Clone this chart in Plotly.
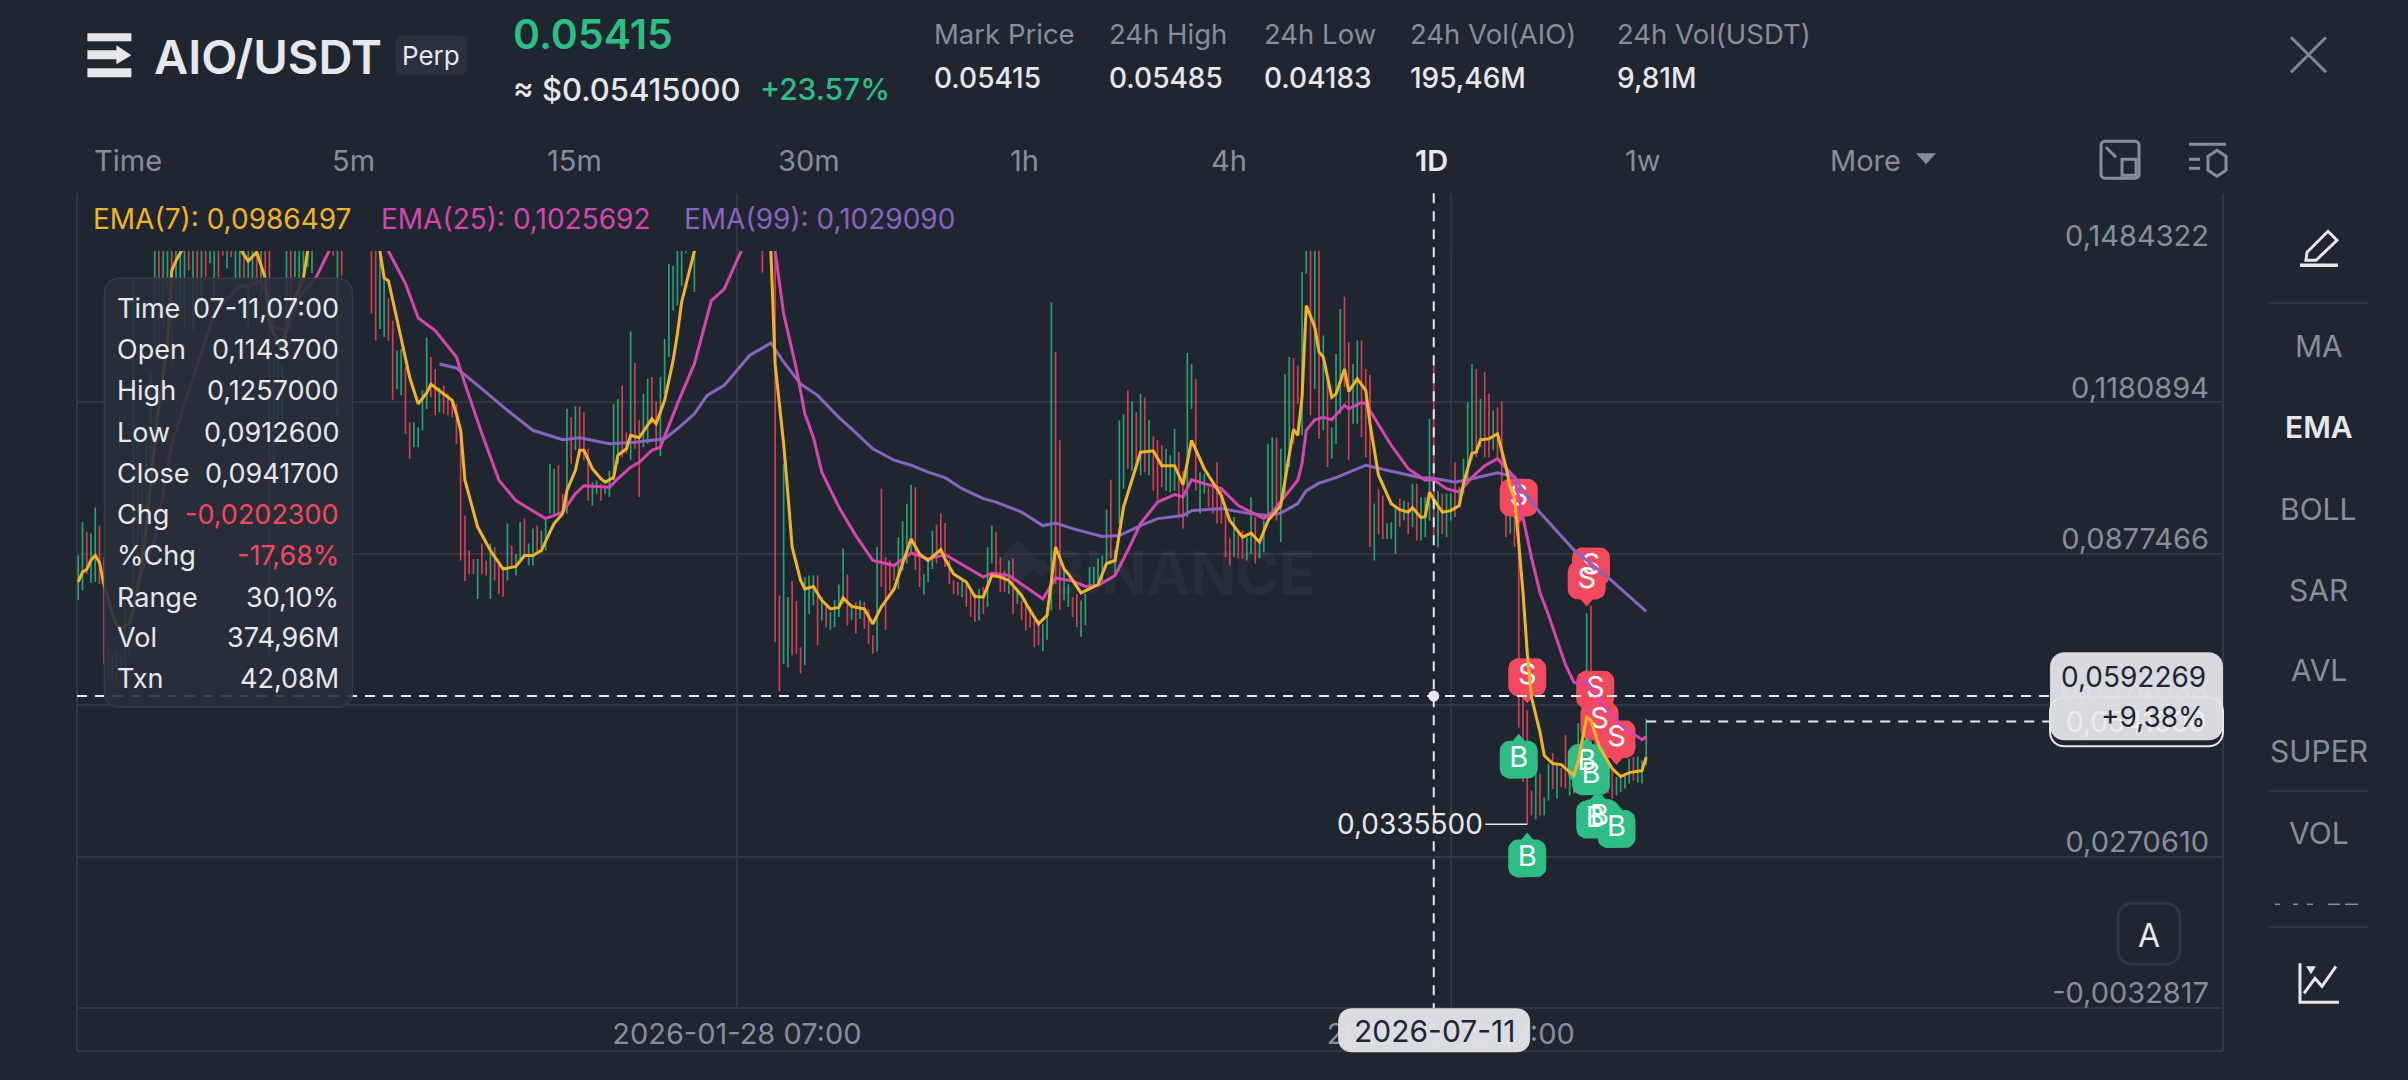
import math

import pandas as pd
import plotly.graph_objects as go

# ======================================
# Chart data
# ======================================

first_day = pd.Timestamp("2025-08-26 07:00")

candle_highs = [
    .0874, .0941, .0921, .0918, .0970, .0934, .0871, .0690, .0677, .0684,
    .0684, .0791, .0757, .1421, .1085, .1058, .1125, .1245, .1550, .1550,
    .1500, .1580, .1580, .1520, .1530, .1540, .1540, .1580, .1550, .1520,
    .1560, .1560, .1500, .1520, .1550, .1560, .1560, .1580, .1600, .1620,
    .1640, .1600, .1610, .1580, .1550, .1580, .1272, .1272, .1258, .1550,
    .1560, .1520, .1500, .1530, .1570, .1580, .1650, .1700, .1680, .1650,
    .1580, .1580, .1560, .1720, .1780, .1800, .1760, .1700, .1620, .1560,
    .1560, .1540, .1439, .1389, .1345, .1285, .1288, .1252, .1141, .1141,
    .1131, .1205, .1310, .1272, .1248, .1211, .1215, .1198, .1188, .1178,
    .1125, .0954, .0884, .0867, .0867, .0898, .0864, .0898, .0891, .0858,
    .0844, .0938, .0894, .0877, .0941, .0948, .0898, .0928, .0934, .0924,
    .0948, .1058, .1048, .1055, .0998, .1168, .1151, .1173, .1173, .1161,
    .1088, .1021, .1024, .1018, .1011, .1044, .1178, .1188, .1215, .1121,
    .1323, .1260, .1145, .1198, .1228, .1232, .1183, .1232, .1308, .1459,
    .1455, .1550, .1570, .1560, .1580, .1600, .1650, .1720, .1780, .1850,
    .1950, .2000, .2050, .2100, .2200, .2250, .2300, .2250, .2200, .2150,
    .2000, .1850, .1800, .1800, .1750, .0794, .1058, .0791, .0823, .0783,
    .0690, .0831, .0834, .0834, .0834, .0791, .0771, .0761, .0785, .0816,
    .0888, .0836, .0777, .0781, .0784, .0781, .0767, .0714, .0891, .1008,
    .0871, .0864, .0854, .0911, .0943, .0978, .1016, .1011, .0881, .0837,
    .0871, .0924, .0936, .0958, .0939, .0864, .0824, .0821, .0824, .0817,
    .0804, .0797, .0807, .0811, .0891, .0934, .0921, .0871, .0844, .0864,
    .0868, .0804, .0784, .0774, .0771, .0744, .0744, .0737, .0771, .1381,
    .1282, .1105, .0851, .0817, .0791, .0797, .0784, .0797, .0851, .0851,
    .0868, .0874, .0966, .1026, .0884, .1145, .1157, .1205, .1183, .1161,
    .1198, .1191, .1146, .1113, .1105, .1095, .1088, .1075, .1128, .1081,
    .1044, .1280, .1258, .1228, .1041, .1038, .1011, .1018, .1061, .1011,
    .0961, .0908, .0951, .0921, .0924, .0911, .0991, .0951, .0904, .0944,
    .1098, .1111, .1110, .1088, .1238, .1272, .1270, .1255, .1442, .1570,
    .1620, .1600, .1580, .1315, .1238, .1131, .1278, .1368, .1393, .1302,
    .1258, .1305, .1305, .1248, .1236, .0978, .1008, .0994, .0938, .0941,
    .0971, .0988, .0984, .0981, .1018, .1018, .0991, .0991, .1148, .1257,
    .1004, .0998, .0998, .0998, .1061, .1011, .1068, .1181, .1258, .1248,
    .1188, .1242, .1198, .1165, .1171, .1183, .0971, .0958, .0958, .0951,
    .0610, .0564, .0403, .0437, .0437, .0389, .0457, .0478, .0457, .0448,
    .0514, .0470, .0437, .0538, .0640, .0758, .0774, .0610, .0560, .0520,
    .0437, .0443, .0430, .0430, .0437, .0467, .0470, .0471, .0463, .0547,
]

candle_lows = [
    .0785, .0804, .0837, .0819, .0821, .0817, .0657, .0624, .0624, .0610,
    .0637, .0624, .0677, .0800, .0858, .0858, .0951, .1031, .1292, .1265,
    .1325, .1405, .1245, .1359, .1359, .1325, .1445, .1325, .1379, .1365,
    .1433, .1460, .1392, .1432, .1475, .1449, .1472, .1429, .1429, .1425,
    .1331, .1419, .1405, .1392, .1419, .0664, .1058, .1145, .1145, .1338,
    .1325, .1432, .1379, .1439, .1452, .1440, .1500, .1520, .1520, .1500,
    .1475, .1151, .1435, .1520, .1550, .1560, .1530, .1500, .1490, .1359,
    .1305, .1328, .1312, .1305, .1186, .1208, .1195, .1118, .1068, .1091,
    .1091, .1125, .1167, .1191, .1155, .1161, .1158, .1155, .1151, .1098,
    .0864, .0823, .0837, .0837, .0787, .0837, .0834, .0787, .0824, .0797,
    .0791, .0824, .0851, .0834, .0858, .0868, .0854, .0854, .0881, .0888,
    .0884, .0958, .0951, .0958, .0958, .0958, .1058, .1085, .1071, .1065,
    .0984, .0974, .0998, .0984, .0998, .0991, .1025, .1058, .1071, .1078,
    .1065, .1088, .0991, .1091, .1098, .1138, .1091, .1073, .1198, .1272,
    .1365, .1375, .1415, .1480, .1490, .1402, .1520, .1550, .1600, .1630,
    .1700, .1750, .1800, .1850, .1900, .1950, .2000, .1950, .1900, .1800,
    .1650, .1441, .1500, .1435, .0700, .0602, .0657, .0650, .0674, .0677,
    .0637, .0654, .0757, .0774, .0694, .0744, .0730, .0725, .0730, .0751,
    .0777, .0734, .0745, .0718, .0747, .0727, .0697, .0677, .0682, .0811,
    .0725, .0804, .0824, .0807, .0844, .0858, .0881, .0845, .0811, .0796,
    .0821, .0847, .0858, .0877, .0851, .0817, .0797, .0794, .0791, .0771,
    .0751, .0741, .0744, .0757, .0771, .0858, .0837, .0801, .0801, .0797,
    .0757, .0777, .0744, .0724, .0730, .0690, .0694, .0682, .0705, .0764,
    .0817, .0765, .0784, .0771, .0751, .0730, .0711, .0734, .0807, .0814,
    .0817, .0817, .0858, .0868, .0831, .0938, .1008, .1048, .1044, .1044,
    .1035, .1041, .1035, .1004, .0984, .1011, .1004, .1001, .1004, .0951,
    .0928, .0951, .1168, .1004, .0958, .0998, .0971, .0958, .0938, .0938,
    .0871, .0854, .0871, .0868, .0868, .0864, .0877, .0858, .0868, .0881,
    .0944, .0951, .0944, .0901, .0998, .1051, .1098, .1178, .1115, .1439,
    .1155, .1208, .1108, .1125, .1051, .1068, .1098, .1158, .1212, .1065,
    .1138, .1138, .1111, .1071, .0891, .0864, .0917, .0907, .0907, .0907,
    .0877, .0931, .0944, .0917, .0931, .0904, .0904, .0911, .0944, .0913,
    .0891, .0917, .0911, .0944, .0951, .0978, .0998, .1018, .1065, .1071,
    .1091, .1071, .1071, .1085, .1065, .0991, .0911, .0918, .0891, .0529,
    .0420, .03355, .0353, .0345, .0353, .0353, .0383, .0406, .0387, .0410,
    .0407, .0393, .0397, .0420, .0420, .0430, .0430, .0440, .0420, .0400,
    .0397, .0387, .0393, .0400, .0407, .0417, .0423, .0419, .0417, .0454,
]

# G = close above open, R = close below open
candle_sides = (
    "GGRGGRRRGG" "RGGGRGGGGR" "GGRGGGRGRG" "RGGRRGRGGR" "GGRGRRGGGG"
    "RGGGGGGRGG" "RGRGGRRRRR" "RGGRRGGRRG" "GGGRRGRRRR" "RRRRGRRGRR"
    "RGRGGRGGRG" "GGGRRGRGRR" "RGGRGGGGRR" "GRRGGRRGGG" "GGGGGGGGRG"
    "GRGRGGRRRR" "RRRRRRGGRR" "RGGGRGRGGG" "GRGRGRRRGR" "RRRGGGGRRG"
    "GGRRRRRRGR" "RRGRGGRRRG" "RGRRRRRGGG" "RRGGRRGGGG" "GGGRGGGRGR"
    "GRGRRRGGGR" "RGGRGGRRRR" "RRGRRGGRGG" "GGRGGGRRGG" "RGRGRGGGRR"
    "GGRRRGRRGG" "GRGRGRGGGR" "GRGGRGGGGR" "GRRGRRRGRR" "RRRGRGGRGR"
    "RGRGGGRRRR" "RRGGGGRGGG"
)

ema7_days = [
    0, 1, 2, 3, 4, 5, 6, 8, 9, 10, 12, 13, 15, 16, 18, 19, 21, 22, 23, 25,
    28, 32, 36, 38, 40, 42, 44, 45, 47, 48, 50, 53, 54, 56, 60, 64, 67, 71,
    72, 73, 76, 78, 80, 82, 83, 85, 88, 89, 90, 91, 94, 97, 100, 103, 105,
    107, 109, 111, 112, 114, 115, 117, 118, 119, 121, 123, 124, 126, 127,
    129, 130, 132, 135, 136, 138, 140, 141, 142, 145, 147, 150, 153, 156,
    159, 161, 163, 164, 166, 167, 168, 170, 171, 173, 175, 177, 179, 180,
    182, 185, 187, 189, 191, 192, 194, 196, 198, 200, 203, 204, 206, 209,
    211, 213, 215, 217, 219, 222, 224, 226, 228, 229, 230, 232, 233, 236,
    240, 242, 244, 246, 248, 250, 253, 255, 258, 260, 262, 265, 269, 271,
    274, 276, 278, 280, 283, 285, 286, 287, 288, 289, 291, 292, 293, 295,
    296, 298, 299, 301, 303, 304, 306, 309, 311, 313, 314, 316, 317, 318,
    319, 321, 323, 325, 326, 328, 329, 330, 332, 334, 336, 337, 338, 339,
    340, 341, 342, 344, 345, 347, 349, 352, 353, 355, 356, 358, 361, 363,
    365, 368, 369,
]
ema7_values = [
    .0821, .0841, .0846, .0865, .0874, .0860, .0817, .0757, .0737, .0727,
    .0738, .0765, .0858, .0931, .1098, .1178, .1298, .1445, .1465, .1495,
    .1540, .1560, .1530, .1490, .1464, .1482, .1430, .1340, .1300, .1287,
    .1370, .1431, .1485, .1560, .1650, .1720, .1650, .1484, .1430, .1425,
    .1312, .1231, .1178, .1200, .1217, .1204, .1185, .1158, .1125, .1025,
    .0931, .0884, .0847, .0852, .0874, .0874, .0884, .0921, .0938, .0958,
    .1004, .1045, .1085, .1085, .1048, .1028, .1021, .1031, .1075, .1088,
    .1115, .1110, .1148, .1138, .1185, .1265, .1318, .1382, .1484, .1580,
    .1720, .1850, .1950, .1900, .1800, .1484, .1258, .1098, .0998, .0891,
    .0824, .0807, .0812, .0784, .0767, .0770, .0789, .0772, .0767, .0737,
    .0771, .0794, .0807, .0858, .0907, .0877, .0864, .0886, .0867, .0837,
    .0821, .0792, .0791, .0834, .0831, .0824, .0794, .0764, .0737, .0754,
    .0817, .0891, .0847, .0837, .0799, .0816, .0858, .0864, .0971, .1028,
    .1081, .1084, .1054, .1054, .1016, .1105, .1048, .0994, .0944, .0911,
    .0919, .0901, .0944, .0974, .1078, .1127, .1115, .1191, .1375, .1332,
    .1282, .1272, .1191, .1198, .1248, .1203, .1228, .1205, .1138, .1035,
    .0978, .0966, .0961, .0970, .0950, .0952, .1001, .0986, .0961, .0964,
    .0974, .1018, .1079, .1081, .1106, .1108, .1118, .1051, .1011, .0990,
    .0900, .0800, .0680, .0590, .0520, .0473, .0457, .0455, .0433, .0463,
    .0550, .0544, .0490, .0447, .0431, .0439, .0443, .0470,
]

ema25_days = [
    14, 18, 22, 27, 32, 38, 40, 43, 44, 46, 49, 52, 56, 59, 63, 67, 70, 73,
    77, 80, 84, 89, 91, 95, 99, 103, 110, 114, 117, 119, 125, 127, 130, 132,
    135, 137, 141, 145, 148, 149, 152, 156, 158, 160, 162, 163, 164, 166,
    169, 171, 173, 175, 179, 183, 187, 192, 196, 200, 204, 209, 213, 215,
    219, 223, 227, 230, 234, 237, 240, 244, 247, 250, 254, 258, 260, 262,
    266, 269, 273, 279, 281, 287, 288, 289, 291, 293, 295, 298, 299, 302,
    303, 309, 313, 317, 319, 322, 325, 328, 331, 334, 338, 340, 342, 344,
    346, 350, 352, 353, 355, 358, 363, 368, 369,
]
ema25_values = [
    .0817, .0904, .1098, .1231, .1359, .1415, .1412, .1425, .1405, .1332,
    .1325, .1392, .1432, .1484, .1580, .1620, .1580, .1484, .1419, .1350,
    .1325, .1272, .1218, .1118, .1025, .0984, .0948, .0961, .0998, .1014,
    .1011, .1028, .1051, .1061, .1085, .1091, .1178, .1258, .1352, .1385,
    .1408, .1484, .1600, .1680, .1700, .1650, .1484, .1359, .1248, .1158,
    .1111, .1041, .0971, .0914, .0864, .0854, .0879, .0867, .0876, .0851,
    .0831, .0839, .0834, .0811, .0787, .0829, .0823, .0812, .0814, .0834,
    .0884, .0938, .0981, .0996, .0992, .1026, .1016, .1008, .0974, .0948,
    .0961, .1025, .1058, .1125, .1146, .1151, .1146, .1175, .1168, .1181,
    .1178, .1095, .1048, .1025, .1026, .1008, .1001, .1031, .1054, .1068,
    .1031, .0951, .0870, .0800, .0755, .0655, .0620, .0617, .0621, .0585,
    .0534, .0505, .0511,
]

ema99_days = [
    85, 89, 95, 101, 107, 111, 114, 118, 125, 131, 138, 141, 145, 148, 152,
    158, 163, 166, 170, 174, 179, 182, 187, 192, 196, 200, 204, 208, 213,
    216, 222, 227, 230, 234, 241, 245, 250, 254, 260, 262, 269, 275, 280,
    283, 287, 289, 292, 296, 299, 303, 309, 316, 319, 324, 328, 334, 338,
    340, 344, 352, 360, 369,
]
ema99_values = [
    .1258, .1250, .1208, .1165, .1125, .1115, .1106, .1110, .1098, .1101,
    .1108, .1128, .1158, .1195, .1215, .1275, .1300, .1262, .1218, .1195,
    .1151, .1128, .1088, .1065, .1055, .1041, .1030, .1008, .0988, .0981,
    .0961, .0934, .0939, .0928, .0912, .0914, .0934, .0948, .0954, .0964,
    .0968, .0959, .0954, .0959, .0978, .1004, .1019, .1030, .1041, .1055,
    .1043, .1030, .1029, .1021, .1028, .1040, .1032, .1004, .0960, .0885,
    .0830, .0762,
]

sell_days = [339, 356, 355, 341, 357, 358, 362]
sell_prices = [.0938, .0800, .0772, .0578, .0553, .0490, .0454]
buy_days = [339, 341, 355, 356, 357, 358, 362]
buy_prices = [.0517, .0319, .0510, .0484, .0397, .0400, .0378]

y_ticks = [.1484322, .1180894, .0877466, .0574038, .0270610, -.0032817]
y_labels = ["0,1484322", "0,1180894", "0,0877466", "0,0574038", "0,0270610", "-0,0032817"]
x_ticks = ["2026-01-28 07:00", "2026-07-15 07:00"]

hover_price = .0592269
hover_day = 319
hover_date = "2026-07-11"
low_day = 341
low_price = .03355
last_price = .05415
last_day = 369

tooltip_names = ["Time", "Open", "High", "Low", "Close", "Chg", "%Chg", "Range", "Vol", "Txn"]
tooltip_values = ["07-11,07:00", "0,1143700", "0,1257000", "0,0912600", "0,0941700",
                  "-0,0202300", "-17,68%", "30,10%", "374,96M", "42,08M"]

stat_names = ["Mark Price", "24h High", "24h Low", "24h Vol(AIO)", "24h Vol(USDT)"]
stat_values = ["0.05415", "0.05485", "0.04183", "195,46M", "9,81M"]
stat_left = [932, 1107, 1262, 1408, 1615]

tab_names = ["Time", "5m", "15m", "30m", "1h", "4h", "1D", "1w", "More"]
tab_left = [92, 330, 545, 776, 1008, 1209, 1413, 1623, 1828]

side_names = ["MA", "EMA", "BOLL", "SAR", "AVL", "SUPER", "VOL"]
side_middle = [346, 427, 509, 590, 670, 751, 833]

# ======================================
# Page geometry and colours
# ======================================

PAGE_W, PAGE_H = 2408, 1080
PLOT_L, PLOT_R, PLOT_T, PLOT_B = 76.6, 2223.0, 250.7, 1007.7
BOX_T, BOX_B = 193.0, 1050.7
DAY_PX = 4.25
DAY0_PX = 77.85

BG = "#1f2630"
GRID = "#303743"
GRAY = "#868e9b"
WHITE = "#e6e8ec"
GREEN = "#2ebd85"
RED = "#f6465d"
YELLOW = "#f0b429"
PINK = "#d645ad"
PURPLE = "#8a62c0"
TAG = "#e0e2e7"
FONT = "Inter"

PRICE_PX = (y_ticks[0] - y_ticks[-1]) / (PLOT_B - PLOT_T)


def day_date(day):
    return first_day + pd.Timedelta(days=day)


def px_date(px):
    return day_date((px - DAY0_PX) / DAY_PX)


def fx(px):
    return (px - PLOT_L) / (PLOT_R - PLOT_L)


def fy(py):
    return (PLOT_B - py) / (PLOT_B - PLOT_T)


annotations = []
shapes = []


def label(text, px, py, size, color=WHITE, anchor="left", weight=400):
    annotations.append(dict(
        text=text, x=fx(px), y=fy(py), xref="paper", yref="paper",
        xanchor=anchor, yanchor="middle", showarrow=False,
        font=dict(family=FONT, size=size, color=color, weight=weight),
    ))


def line(x0, y0, x1, y1, color=GRID, width=2, dash=None, layer="above"):
    shapes.append(dict(
        type="line", xref="paper", yref="paper", layer=layer,
        x0=fx(x0), y0=fy(y0), x1=fx(x1), y1=fy(y1),
        line=dict(color=color, width=width, dash=dash),
    ))


def path(points, fill=None, color=None, width=0, close=True):
    text = "M " + " L ".join(f"{fx(a):.5f},{fy(b):.5f}" for a, b in points)
    if close:
        text += " Z"
    shapes.append(dict(
        type="path", xref="paper", yref="paper", layer="above", path=text,
        fillcolor=fill if fill else "rgba(0,0,0,0)",
        line=dict(color=color if color else "rgba(0,0,0,0)", width=width),
    ))


def corner_points(x0, y0, x1, y1, r):
    points = []
    corners = [(x1 - r, y0 + r, -90), (x1 - r, y1 - r, 0), (x0 + r, y1 - r, 90), (x0 + r, y0 + r, 180)]
    for cx, cy, start in corners:
        for step in range(7):
            angle = math.radians(start + step * 15)
            points.append((cx + r * math.cos(angle), cy + r * math.sin(angle)))
    return points


def round_box(x0, y0, x1, y1, r, fill=None, color=None, width=0):
    path(corner_points(x0, y0, x1, y1, r), fill, color, width)


def badge_outline(day, price, sell):
    # badge hangs off the candle: tip on the price, 38 px rounded body beyond it
    side = 1 if sell else -1
    xs, ys = [], []
    body = corner_points(-19, 7, 19, 45, 10)
    points = [(-6, 7)] + body[::-1] + [(6, 7), (0, 0)]
    for dx, dy in points:
        xs.append(day_date(day + dx / DAY_PX))
        ys.append(price + side * dy * PRICE_PX)
    xs.append(xs[0])
    ys.append(ys[0])
    return xs, ys


def badge_trace(days, prices, sell, color, letter):
    xs, ys = [], []
    for day, price in zip(days, prices):
        bx, by = badge_outline(day, price, sell)
        xs += bx + [None]
        ys += by + [None]
    side = 1 if sell else -1
    return [
        go.Scatter(x=xs, y=ys, mode="lines", fill="toself", fillcolor=color,
                   line=dict(width=0, color=color), hoverinfo="skip"),
        go.Scatter(x=[day_date(d) for d in days],
                   y=[p + side * 26 * PRICE_PX for p in prices],
                   mode="text", text=[letter] * len(days),
                   textfont=dict(family=FONT, size=29, color="white"),
                   hoverinfo="skip"),
    ]


# ======================================
# Traces
# ======================================

dates = [day_date(i) for i in range(len(candle_highs))]

fig = go.Figure()

fig.add_trace(go.Ohlc(
    x=dates,
    open=[l if s == "G" else h for h, l, s in zip(candle_highs, candle_lows, candle_sides)],
    close=[h if s == "G" else l for h, l, s in zip(candle_highs, candle_lows, candle_sides)],
    high=candle_highs,
    low=candle_lows,
    increasing=dict(line=dict(color=GREEN, width=1.7)),
    decreasing=dict(line=dict(color=RED, width=1.7)),
    tickwidth=0,
    opacity=0.8,
    hoverinfo="skip",
))

for trace in badge_trace(sell_days, sell_prices, True, "#f2495f", "S"):
    fig.add_trace(trace)
for trace in badge_trace(buy_days, buy_prices, False, "#2ebd85", "B"):
    fig.add_trace(trace)

for days, values, color in (
    (ema99_days, ema99_values, PURPLE),
    (ema25_days, ema25_values, PINK),
    (ema7_days, ema7_values, YELLOW),
):
    fig.add_trace(go.Scatter(
        x=[day_date(d) for d in days], y=values, mode="lines",
        line=dict(color=color, width=3), hoverinfo="skip",
    ))

fig.add_trace(go.Scatter(
    x=[day_date(hover_day)], y=[hover_price], mode="markers",
    marker=dict(color=WHITE, size=11), hoverinfo="skip",
))

# ======================================
# Chart furniture
# ======================================

# frame and the bits of grid above the clipped price area
line(PLOT_L, BOX_T, PLOT_L, BOX_B, layer="below")
line(PLOT_R, BOX_T, PLOT_R, BOX_B, layer="below")
line(PLOT_L, BOX_B, PLOT_R, BOX_B, layer="below")
line(PLOT_L, PLOT_B, PLOT_R, PLOT_B, layer="below")
for tick in x_ticks:
    tick_px = DAY0_PX + DAY_PX * (pd.Timestamp(tick) - first_day).days
    line(tick_px, BOX_T, tick_px, PLOT_T, layer="below")

# watermark
for cx, cy, size in ((1018, 562, 22), (1042, 568, 9), (1018, 590, 8)):
    shapes.append(dict(
        type="path", xref="paper", yref="paper", layer="below",
        path="M {:.5f},{:.5f} L {:.5f},{:.5f} L {:.5f},{:.5f} L {:.5f},{:.5f} Z".format(
            fx(cx), fy(cy - size), fx(cx + size), fy(cy), fx(cx), fy(cy + size), fx(cx - size), fy(cy)),
        fillcolor="#272e39", line=dict(width=0),
    ))
label("BINANCE", 1044, 572, 59, "rgba(255,255,255,0.04)", weight=700)

# crosshair
hover_px = DAY0_PX + DAY_PX * hover_day
shapes.append(dict(
    type="line", xref="x", yref="y",
    x0=px_date(PLOT_L), x1=px_date(2050), y0=hover_price, y1=hover_price,
    line=dict(color=WHITE, width=2, dash="10px,8px"),
))
line(hover_px, BOX_T, hover_px, PLOT_B, WHITE, 2, "10px,8px")

# last price
shapes.append(dict(
    type="line", xref="x", yref="y",
    x0=day_date(last_day), x1=px_date(2050), y0=last_price, y1=last_price,
    line=dict(color=WHITE, width=2, dash="10px,8px"),
))

# lowest price marker
annotations.append(dict(
    text="0,0335500", x=day_date(low_day), y=low_price, xref="x", yref="y",
    ax=-42, ay=0, axref="pixel", ayref="pixel", xanchor="right", showarrow=True,
    arrowhead=0, arrowwidth=1.5, arrowcolor=WHITE, standoff=0,
    font=dict(family=FONT, size=28, color=WHITE),
))

# legend
label("EMA(7): 0,0986497", 91, 219, 28, YELLOW)
label("EMA(25): 0,1025692", 379, 219, 28, PINK)
label("EMA(99): 0,1029090", 682, 219, 28, PURPLE)

# tooltip
round_box(104, 278, 352, 707, 14, "rgba(40,48,60,0.90)", "#333b47", 1.5)
tooltip_rows = [308, 349, 390, 432, 473, 514, 555, 597, 637, 678]
for name, value, row in zip(tooltip_names, tooltip_values, tooltip_rows):
    value_color = RED if value.startswith("-") else WHITE
    label(name, 115, row, 27)
    label(value, 341, row, 27, value_color, "right")

# price tags on the right
round_box(2050, 697, 2223, 746, 14, None, WHITE, 2)
label("0,0541500", 2208, 722, 28, "rgba(255,255,255,0.55)", "right")
round_box(2050, 652, 2223, 740, 14, "rgba(224,226,231,0.96)")
label("0,0592269", 2208, 677, 28, "#1f2630", "right")
label("+9,38%", 2208, 717, 28, "#1f2630", "right")

# date tag
round_box(1338, 1008, 1530, 1052, 13, "rgba(224,226,231,0.97)")
label(hover_date, 1434, 1031, 30, "#1f2630", "center")

# auto scale button
round_box(2118, 903, 2180, 964, 14, None, "#2f3642", 3)
label("A", 2149, 935, 32, WHITE, "center")

# ======================================
# Header
# ======================================

for top, bottom in ((33, 41), (68, 77)):
    path([(87, top), (131, top), (131, bottom), (87, bottom)], WHITE)
path([(87, 50), (116, 50), (116, 45), (131, 55), (116, 64), (116, 59), (87, 59)], WHITE)
label("AIO/USDT", 152, 56, 47, WHITE, weight=600)
round_box(395, 35, 467, 75, 8, "#2a313c")
label("Perp", 431, 55, 26, WHITE, "center")
label("0.05415", 511, 34, 41, "#2ebd85", weight=600)
label("≈ $0.05415000", 511, 89, 31, WHITE, weight=500)
label("+23.57%", 758, 89, 30, "#2ebd85", weight=500)

for name, value, left in zip(stat_names, stat_values, stat_left):
    label(name, left, 34, 27.5, GRAY)
    label(value, left, 78, 28, WHITE, weight=500)

line(2291, 37, 2326, 72, "#7f8794", 3)
line(2326, 37, 2291, 72, "#7f8794", 3)

for name, left in zip(tab_names, tab_left):
    active = name == "1D"
    label(name, left, 160, 29, WHITE if active else GRAY, weight=600 if active else 400)
path([(1916, 153), (1936, 153), (1926, 164)], GRAY)

# layout + settings icons
round_box(2101, 141, 2139, 178, 4, None, GRAY, 3)
path([(2122, 159), (2136, 159), (2136, 175), (2122, 175)], None, GRAY, 3)
line(2106, 147, 2116, 157, GRAY, 3)
line(2189, 144, 2226, 144, GRAY, 3)
line(2189, 159, 2200, 159, GRAY, 3)
line(2189, 168, 2200, 168, GRAY, 3)
path([(2217, 150), (2226, 156), (2226, 170), (2217, 176), (2208, 170), (2208, 156)], None, GRAY, 3)

# ======================================
# Right hand side bar
# ======================================

path([(2307, 252), (2328, 231), (2337, 240), (2316, 260), (2306, 260)], None, WHITE, 3)
line(2300, 265, 2338, 265, WHITE, 3.5)
line(2269, 303, 2369, 303, GRID)
for name, middle in zip(side_names, side_middle):
    active = name == "EMA"
    label(name, 2319, middle, 30, WHITE if active else GRAY, "center", 600 if active else 400)
line(2269, 791, 2369, 791, GRID)
line(2269, 927, 2369, 927, GRID)
# top edge of the next menu item, cut off by the scroll area
for left, right in ((2275, 2280), (2293, 2298), (2307, 2313), (2328, 2340), (2345, 2358)):
    line(left, 904, right, 904, GRAY, 1.5)
path([(2300, 963), (2300, 1002), (2339, 1002)], None, WHITE, 3, False)
path([(2304, 993), (2315, 978), (2322, 986), (2336, 966)], None, WHITE, 3, False)
path([(2306, 966), (2316, 966), (2311, 974)], WHITE)

# ======================================
# Layout
# ======================================

fig.update_layout(
    width=PAGE_W,
    height=PAGE_H,
    margin=dict(l=PLOT_L, r=PAGE_W - PLOT_R, t=PLOT_T, b=PAGE_H - PLOT_B, pad=0),
    paper_bgcolor=BG,
    plot_bgcolor=BG,
    showlegend=False,
    font=dict(family=FONT),
    annotations=annotations,
    shapes=shapes,
    xaxis=dict(
        type="date",
        range=[px_date(PLOT_L), px_date(PLOT_R)],
        rangeslider=dict(visible=False),
        tickmode="array",
        tickvals=x_ticks,
        ticktext=x_ticks,
        ticks="",
        showline=False,
        showgrid=True,
        gridcolor=GRID,
        gridwidth=1.5,
        zeroline=False,
        tickfont=dict(family=FONT, size=29, color=GRAY),
        ticklabelstandoff=6,
    ),
    yaxis=dict(
        range=[y_ticks[-1], y_ticks[0]],
        side="right",
        tickmode="array",
        tickvals=y_ticks,
        ticktext=y_labels,
        ticks="",
        ticklabelposition="inside",
        ticklabeloverflow="allow",
        ticklabelstandoff=11,
        ticklabelshift=-15,
        showline=False,
        showgrid=True,
        gridcolor=GRID,
        gridwidth=1.5,
        zeroline=False,
        tickfont=dict(family=FONT, size=29, color=GRAY),
    ),
)

fig.write_html("out.html", config={"displayModeBar": False},
               post_script="document.body.style.margin='0';")
